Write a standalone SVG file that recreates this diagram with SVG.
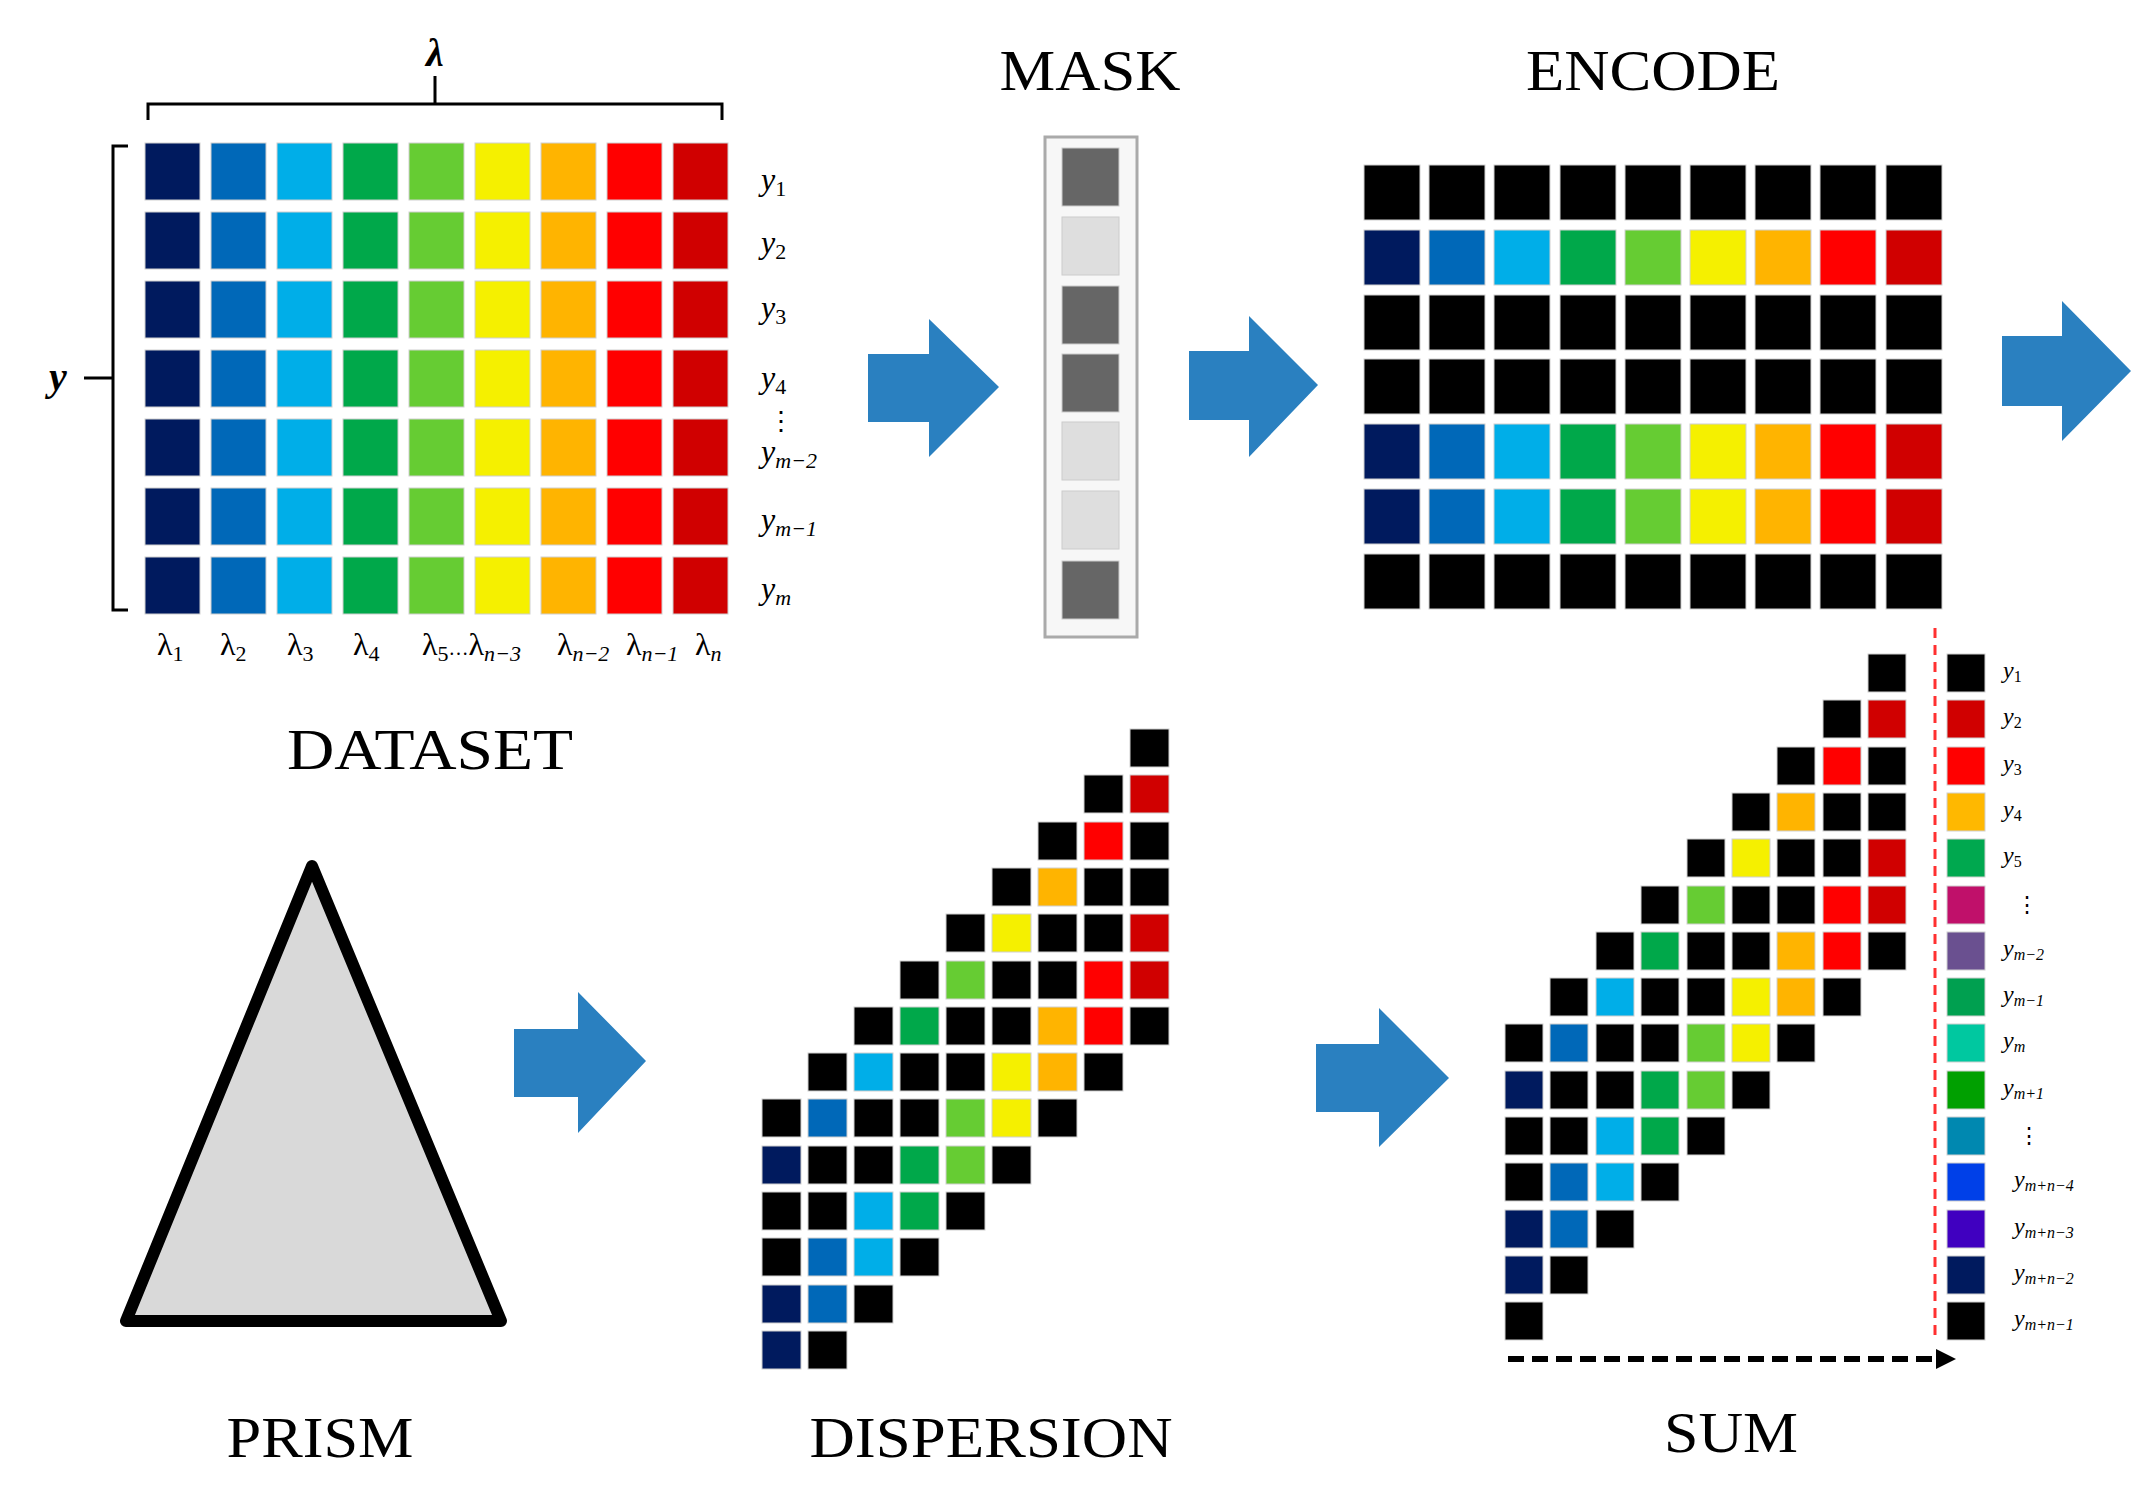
<svg xmlns="http://www.w3.org/2000/svg" width="2154" height="1485" viewBox="0 0 2154 1485">
<style>
.t{font-family:"Liberation Serif","DejaVu Serif",serif;fill:#000}
.ti{font-family:"Liberation Serif","DejaVu Serif",serif;font-style:italic;fill:#000}
.c{stroke:#d0d0d0;stroke-width:1}
.k{fill:#000}.nv{fill:#001a5e}.bl{fill:#0068b8}.cy{fill:#00aee8}.gr{fill:#00a84a}.lg{fill:#66cc33}.ye{fill:#f5f000}.or{fill:#ffb400}.rd{fill:#ff0000}.dr{fill:#d00000}
.arr{fill:#2a80c0}
.ln{fill:none;stroke:#000;stroke-width:3}
</style>
<g id="dataset">
<g id="dataset-grid" class="c">
<g transform="translate(0,143)"><rect x="145" width="55" height="57" class="nv"/><rect x="211" width="55" height="57" class="bl"/><rect x="277" width="55" height="57" class="cy"/><rect x="343" width="55" height="57" class="gr"/><rect x="409" width="55" height="57" class="lg"/><rect x="475" width="55" height="57" class="ye"/><rect x="541" width="55" height="57" class="or"/><rect x="607" width="55" height="57" class="rd"/><rect x="673" width="55" height="57" class="dr"/></g>
<g transform="translate(0,212)"><rect x="145" width="55" height="57" class="nv"/><rect x="211" width="55" height="57" class="bl"/><rect x="277" width="55" height="57" class="cy"/><rect x="343" width="55" height="57" class="gr"/><rect x="409" width="55" height="57" class="lg"/><rect x="475" width="55" height="57" class="ye"/><rect x="541" width="55" height="57" class="or"/><rect x="607" width="55" height="57" class="rd"/><rect x="673" width="55" height="57" class="dr"/></g>
<g transform="translate(0,281)"><rect x="145" width="55" height="57" class="nv"/><rect x="211" width="55" height="57" class="bl"/><rect x="277" width="55" height="57" class="cy"/><rect x="343" width="55" height="57" class="gr"/><rect x="409" width="55" height="57" class="lg"/><rect x="475" width="55" height="57" class="ye"/><rect x="541" width="55" height="57" class="or"/><rect x="607" width="55" height="57" class="rd"/><rect x="673" width="55" height="57" class="dr"/></g>
<g transform="translate(0,350)"><rect x="145" width="55" height="57" class="nv"/><rect x="211" width="55" height="57" class="bl"/><rect x="277" width="55" height="57" class="cy"/><rect x="343" width="55" height="57" class="gr"/><rect x="409" width="55" height="57" class="lg"/><rect x="475" width="55" height="57" class="ye"/><rect x="541" width="55" height="57" class="or"/><rect x="607" width="55" height="57" class="rd"/><rect x="673" width="55" height="57" class="dr"/></g>
<g transform="translate(0,419)"><rect x="145" width="55" height="57" class="nv"/><rect x="211" width="55" height="57" class="bl"/><rect x="277" width="55" height="57" class="cy"/><rect x="343" width="55" height="57" class="gr"/><rect x="409" width="55" height="57" class="lg"/><rect x="475" width="55" height="57" class="ye"/><rect x="541" width="55" height="57" class="or"/><rect x="607" width="55" height="57" class="rd"/><rect x="673" width="55" height="57" class="dr"/></g>
<g transform="translate(0,488)"><rect x="145" width="55" height="57" class="nv"/><rect x="211" width="55" height="57" class="bl"/><rect x="277" width="55" height="57" class="cy"/><rect x="343" width="55" height="57" class="gr"/><rect x="409" width="55" height="57" class="lg"/><rect x="475" width="55" height="57" class="ye"/><rect x="541" width="55" height="57" class="or"/><rect x="607" width="55" height="57" class="rd"/><rect x="673" width="55" height="57" class="dr"/></g>
<g transform="translate(0,557)"><rect x="145" width="55" height="57" class="nv"/><rect x="211" width="55" height="57" class="bl"/><rect x="277" width="55" height="57" class="cy"/><rect x="343" width="55" height="57" class="gr"/><rect x="409" width="55" height="57" class="lg"/><rect x="475" width="55" height="57" class="ye"/><rect x="541" width="55" height="57" class="or"/><rect x="607" width="55" height="57" class="rd"/><rect x="673" width="55" height="57" class="dr"/></g>
</g>
<path class="ln" d="M148,120 V104 H722 V120 M435,104 V76"/>
<text class="ti" x="435" y="66" font-size="40" text-anchor="middle" font-weight="bold">λ</text>
<path class="ln" d="M128,146 H113 V610 H128 M113,378 H84"/>
<text class="ti" x="58" y="390" font-size="40" text-anchor="middle" font-weight="bold">y</text>
<g class="ti" font-size="32">
<text x="761" y="190">y<tspan font-size="22" font-style="normal" dy="6">1</tspan></text>
<text x="761" y="253">y<tspan font-size="22" font-style="normal" dy="6">2</tspan></text>
<text x="761" y="318">y<tspan font-size="22" font-style="normal" dy="6">3</tspan></text>
<text x="761" y="388">y<tspan font-size="22" font-style="normal" dy="6">4</tspan></text>
<text x="768" y="430" font-style="normal" font-size="26">⋮</text>
<text x="761" y="462">y<tspan font-size="22" dy="6">m−2</tspan></text>
<text x="761" y="530">y<tspan font-size="22" dy="6">m−1</tspan></text>
<text x="761" y="599">y<tspan font-size="22" dy="6">m</tspan></text>
</g>
<g class="t" font-size="32">
<text x="157" y="655">λ<tspan font-size="22" dy="6">1</tspan></text>
<text x="220" y="655">λ<tspan font-size="22" dy="6">2</tspan></text>
<text x="287" y="655">λ<tspan font-size="22" dy="6">3</tspan></text>
<text x="353" y="655">λ<tspan font-size="22" dy="6">4</tspan></text>
<text x="422" y="655">λ<tspan font-size="22" dy="6">5</tspan><tspan dy="-6" font-size="20">…</tspan>λ<tspan font-size="22" font-style="italic" dy="6">n−3</tspan></text>
<text x="557" y="655">λ<tspan font-size="22" font-style="italic" dy="6">n−2</tspan></text>
<text x="626" y="655">λ<tspan font-size="22" font-style="italic" dy="6">n−1</tspan></text>
<text x="695" y="655">λ<tspan font-size="22" font-style="italic" dy="6">n</tspan></text>
</g>
<text class="t" x="430" y="769" font-size="58" text-anchor="middle" textLength="286" lengthAdjust="spacingAndGlyphs">DATASET</text>
</g>
<g id="mask">
<text class="t" x="1090" y="90" font-size="58" text-anchor="middle" textLength="181" lengthAdjust="spacingAndGlyphs">MASK</text>
<rect x="1045" y="137" width="92" height="500" fill="#f7f7f7" stroke="#aaa" stroke-width="3"/>
<g stroke="#ccc" stroke-width="1">
<rect x="1062" y="148" width="57" height="58" fill="#666"/>
<rect x="1062" y="217" width="57" height="58" fill="#dedede"/>
<rect x="1062" y="286" width="57" height="58" fill="#666"/>
<rect x="1062" y="354" width="57" height="58" fill="#666"/>
<rect x="1062" y="422" width="57" height="58" fill="#dedede"/>
<rect x="1062" y="491" width="57" height="58" fill="#dedede"/>
<rect x="1062" y="561" width="57" height="58" fill="#666"/>
</g>
</g>
<g id="encode">
<text class="t" x="1653" y="90" font-size="58" text-anchor="middle" textLength="254" lengthAdjust="spacingAndGlyphs">ENCODE</text>
<g class="c">
<g transform="translate(0,165)" class="k"><rect x="1364" width="56" height="55"/><rect x="1429" width="56" height="55"/><rect x="1494" width="56" height="55"/><rect x="1560" width="56" height="55"/><rect x="1625" width="56" height="55"/><rect x="1690" width="56" height="55"/><rect x="1755" width="56" height="55"/><rect x="1820" width="56" height="55"/><rect x="1886" width="56" height="55"/></g>
<g transform="translate(0,230)"><rect x="1364" width="56" height="55" class="nv"/><rect x="1429" width="56" height="55" class="bl"/><rect x="1494" width="56" height="55" class="cy"/><rect x="1560" width="56" height="55" class="gr"/><rect x="1625" width="56" height="55" class="lg"/><rect x="1690" width="56" height="55" class="ye"/><rect x="1755" width="56" height="55" class="or"/><rect x="1820" width="56" height="55" class="rd"/><rect x="1886" width="56" height="55" class="dr"/></g>
<g transform="translate(0,295)" class="k"><rect x="1364" width="56" height="55"/><rect x="1429" width="56" height="55"/><rect x="1494" width="56" height="55"/><rect x="1560" width="56" height="55"/><rect x="1625" width="56" height="55"/><rect x="1690" width="56" height="55"/><rect x="1755" width="56" height="55"/><rect x="1820" width="56" height="55"/><rect x="1886" width="56" height="55"/></g>
<g transform="translate(0,359)" class="k"><rect x="1364" width="56" height="55"/><rect x="1429" width="56" height="55"/><rect x="1494" width="56" height="55"/><rect x="1560" width="56" height="55"/><rect x="1625" width="56" height="55"/><rect x="1690" width="56" height="55"/><rect x="1755" width="56" height="55"/><rect x="1820" width="56" height="55"/><rect x="1886" width="56" height="55"/></g>
<g transform="translate(0,424)"><rect x="1364" width="56" height="55" class="nv"/><rect x="1429" width="56" height="55" class="bl"/><rect x="1494" width="56" height="55" class="cy"/><rect x="1560" width="56" height="55" class="gr"/><rect x="1625" width="56" height="55" class="lg"/><rect x="1690" width="56" height="55" class="ye"/><rect x="1755" width="56" height="55" class="or"/><rect x="1820" width="56" height="55" class="rd"/><rect x="1886" width="56" height="55" class="dr"/></g>
<g transform="translate(0,489)"><rect x="1364" width="56" height="55" class="nv"/><rect x="1429" width="56" height="55" class="bl"/><rect x="1494" width="56" height="55" class="cy"/><rect x="1560" width="56" height="55" class="gr"/><rect x="1625" width="56" height="55" class="lg"/><rect x="1690" width="56" height="55" class="ye"/><rect x="1755" width="56" height="55" class="or"/><rect x="1820" width="56" height="55" class="rd"/><rect x="1886" width="56" height="55" class="dr"/></g>
<g transform="translate(0,554)" class="k"><rect x="1364" width="56" height="55"/><rect x="1429" width="56" height="55"/><rect x="1494" width="56" height="55"/><rect x="1560" width="56" height="55"/><rect x="1625" width="56" height="55"/><rect x="1690" width="56" height="55"/><rect x="1755" width="56" height="55"/><rect x="1820" width="56" height="55"/><rect x="1886" width="56" height="55"/></g>
</g>
</g>
<g id="prism">
<polygon points="312,866 126,1321 501,1321" fill="#d9d9d9" stroke="#000" stroke-width="12" stroke-linejoin="round"/>
<text class="t" x="320" y="1457" font-size="58" text-anchor="middle" textLength="187" lengthAdjust="spacingAndGlyphs">PRISM</text>
</g>
<g id="dispersion">
<g class="c">
<g transform="translate(0,729)"><rect x="1130" width="39" height="38" class="k"/></g>
<g transform="translate(0,775)"><rect x="1084" width="39" height="38" class="k"/><rect x="1130" width="39" height="38" class="dr"/></g>
<g transform="translate(0,822)"><rect x="1038" width="39" height="38" class="k"/><rect x="1084" width="39" height="38" class="rd"/><rect x="1130" width="39" height="38" class="k"/></g>
<g transform="translate(0,868)"><rect x="992" width="39" height="38" class="k"/><rect x="1038" width="39" height="38" class="or"/><rect x="1084" width="39" height="38" class="k"/><rect x="1130" width="39" height="38" class="k"/></g>
<g transform="translate(0,914)"><rect x="946" width="39" height="38" class="k"/><rect x="992" width="39" height="38" class="ye"/><rect x="1038" width="39" height="38" class="k"/><rect x="1084" width="39" height="38" class="k"/><rect x="1130" width="39" height="38" class="dr"/></g>
<g transform="translate(0,961)"><rect x="900" width="39" height="38" class="k"/><rect x="946" width="39" height="38" class="lg"/><rect x="992" width="39" height="38" class="k"/><rect x="1038" width="39" height="38" class="k"/><rect x="1084" width="39" height="38" class="rd"/><rect x="1130" width="39" height="38" class="dr"/></g>
<g transform="translate(0,1007)"><rect x="854" width="39" height="38" class="k"/><rect x="900" width="39" height="38" class="gr"/><rect x="946" width="39" height="38" class="k"/><rect x="992" width="39" height="38" class="k"/><rect x="1038" width="39" height="38" class="or"/><rect x="1084" width="39" height="38" class="rd"/><rect x="1130" width="39" height="38" class="k"/></g>
<g transform="translate(0,1053)"><rect x="808" width="39" height="38" class="k"/><rect x="854" width="39" height="38" class="cy"/><rect x="900" width="39" height="38" class="k"/><rect x="946" width="39" height="38" class="k"/><rect x="992" width="39" height="38" class="ye"/><rect x="1038" width="39" height="38" class="or"/><rect x="1084" width="39" height="38" class="k"/></g>
<g transform="translate(0,1099)"><rect x="762" width="39" height="38" class="k"/><rect x="808" width="39" height="38" class="bl"/><rect x="854" width="39" height="38" class="k"/><rect x="900" width="39" height="38" class="k"/><rect x="946" width="39" height="38" class="lg"/><rect x="992" width="39" height="38" class="ye"/><rect x="1038" width="39" height="38" class="k"/></g>
<g transform="translate(0,1146)"><rect x="762" width="39" height="38" class="nv"/><rect x="808" width="39" height="38" class="k"/><rect x="854" width="39" height="38" class="k"/><rect x="900" width="39" height="38" class="gr"/><rect x="946" width="39" height="38" class="lg"/><rect x="992" width="39" height="38" class="k"/></g>
<g transform="translate(0,1192)"><rect x="762" width="39" height="38" class="k"/><rect x="808" width="39" height="38" class="k"/><rect x="854" width="39" height="38" class="cy"/><rect x="900" width="39" height="38" class="gr"/><rect x="946" width="39" height="38" class="k"/></g>
<g transform="translate(0,1238)"><rect x="762" width="39" height="38" class="k"/><rect x="808" width="39" height="38" class="bl"/><rect x="854" width="39" height="38" class="cy"/><rect x="900" width="39" height="38" class="k"/></g>
<g transform="translate(0,1285)"><rect x="762" width="39" height="38" class="nv"/><rect x="808" width="39" height="38" class="bl"/><rect x="854" width="39" height="38" class="k"/></g>
<g transform="translate(0,1331)"><rect x="762" width="39" height="38" class="nv"/><rect x="808" width="39" height="38" class="k"/></g>
</g>
<text class="t" x="991" y="1457" font-size="58" text-anchor="middle" textLength="363" lengthAdjust="spacingAndGlyphs">DISPERSION</text>
</g>
<g id="sum">
<g class="c">
<g transform="translate(0,654)"><rect x="1868" width="38" height="38" class="k"/></g>
<g transform="translate(0,700)"><rect x="1823" width="38" height="38" class="k"/><rect x="1868" width="38" height="38" class="dr"/></g>
<g transform="translate(0,747)"><rect x="1777" width="38" height="38" class="k"/><rect x="1823" width="38" height="38" class="rd"/><rect x="1868" width="38" height="38" class="k"/></g>
<g transform="translate(0,793)"><rect x="1732" width="38" height="38" class="k"/><rect x="1777" width="38" height="38" class="or"/><rect x="1823" width="38" height="38" class="k"/><rect x="1868" width="38" height="38" class="k"/></g>
<g transform="translate(0,839)"><rect x="1687" width="38" height="38" class="k"/><rect x="1732" width="38" height="38" class="ye"/><rect x="1777" width="38" height="38" class="k"/><rect x="1823" width="38" height="38" class="k"/><rect x="1868" width="38" height="38" class="dr"/></g>
<g transform="translate(0,886)"><rect x="1641" width="38" height="38" class="k"/><rect x="1687" width="38" height="38" class="lg"/><rect x="1732" width="38" height="38" class="k"/><rect x="1777" width="38" height="38" class="k"/><rect x="1823" width="38" height="38" class="rd"/><rect x="1868" width="38" height="38" class="dr"/></g>
<g transform="translate(0,932)"><rect x="1596" width="38" height="38" class="k"/><rect x="1641" width="38" height="38" class="gr"/><rect x="1687" width="38" height="38" class="k"/><rect x="1732" width="38" height="38" class="k"/><rect x="1777" width="38" height="38" class="or"/><rect x="1823" width="38" height="38" class="rd"/><rect x="1868" width="38" height="38" class="k"/></g>
<g transform="translate(0,978)"><rect x="1550" width="38" height="38" class="k"/><rect x="1596" width="38" height="38" class="cy"/><rect x="1641" width="38" height="38" class="k"/><rect x="1687" width="38" height="38" class="k"/><rect x="1732" width="38" height="38" class="ye"/><rect x="1777" width="38" height="38" class="or"/><rect x="1823" width="38" height="38" class="k"/></g>
<g transform="translate(0,1024)"><rect x="1505" width="38" height="38" class="k"/><rect x="1550" width="38" height="38" class="bl"/><rect x="1596" width="38" height="38" class="k"/><rect x="1641" width="38" height="38" class="k"/><rect x="1687" width="38" height="38" class="lg"/><rect x="1732" width="38" height="38" class="ye"/><rect x="1777" width="38" height="38" class="k"/></g>
<g transform="translate(0,1071)"><rect x="1505" width="38" height="38" class="nv"/><rect x="1550" width="38" height="38" class="k"/><rect x="1596" width="38" height="38" class="k"/><rect x="1641" width="38" height="38" class="gr"/><rect x="1687" width="38" height="38" class="lg"/><rect x="1732" width="38" height="38" class="k"/></g>
<g transform="translate(0,1117)"><rect x="1505" width="38" height="38" class="k"/><rect x="1550" width="38" height="38" class="k"/><rect x="1596" width="38" height="38" class="cy"/><rect x="1641" width="38" height="38" class="gr"/><rect x="1687" width="38" height="38" class="k"/></g>
<g transform="translate(0,1163)"><rect x="1505" width="38" height="38" class="k"/><rect x="1550" width="38" height="38" class="bl"/><rect x="1596" width="38" height="38" class="cy"/><rect x="1641" width="38" height="38" class="k"/></g>
<g transform="translate(0,1210)"><rect x="1505" width="38" height="38" class="nv"/><rect x="1550" width="38" height="38" class="bl"/><rect x="1596" width="38" height="38" class="k"/></g>
<g transform="translate(0,1256)"><rect x="1505" width="38" height="38" class="nv"/><rect x="1550" width="38" height="38" class="k"/></g>
<g transform="translate(0,1302)"><rect x="1505" width="38" height="38" class="k"/></g>
</g>
<g class="c">
<rect x="1947" y="654" width="38" height="38" fill="#000"/>
<rect x="1947" y="700" width="38" height="38" fill="#d00000"/>
<rect x="1947" y="747" width="38" height="38" fill="#ff0000"/>
<rect x="1947" y="793" width="38" height="38" fill="#ffb800"/>
<rect x="1947" y="839" width="38" height="38" fill="#00a84f"/>
<rect x="1947" y="886" width="38" height="38" fill="#c0106a"/>
<rect x="1947" y="932" width="38" height="38" fill="#6a5090"/>
<rect x="1947" y="978" width="38" height="38" fill="#00a050"/>
<rect x="1947" y="1024" width="38" height="38" fill="#00c8a0"/>
<rect x="1947" y="1071" width="38" height="38" fill="#00a000"/>
<rect x="1947" y="1117" width="38" height="38" fill="#0088b0"/>
<rect x="1947" y="1163" width="38" height="38" fill="#0040e8"/>
<rect x="1947" y="1210" width="38" height="38" fill="#4000c0"/>
<rect x="1947" y="1256" width="38" height="38" fill="#001a5e"/>
<rect x="1947" y="1302" width="38" height="38" fill="#000"/>
</g>
<g class="ti" font-size="24">
<text x="2003" y="678">y<tspan font-size="16" font-style="normal" dy="4">1</tspan></text>
<text x="2003" y="724">y<tspan font-size="16" font-style="normal" dy="4">2</tspan></text>
<text x="2003" y="771">y<tspan font-size="16" font-style="normal" dy="4">3</tspan></text>
<text x="2003" y="817">y<tspan font-size="16" font-style="normal" dy="4">4</tspan></text>
<text x="2003" y="863">y<tspan font-size="16" font-style="normal" dy="4">5</tspan></text>
<text x="2016" y="912" font-style="normal" font-size="22">⋮</text>
<text x="2003" y="956">y<tspan font-size="16" dy="4">m−2</tspan></text>
<text x="2003" y="1002">y<tspan font-size="16" dy="4">m−1</tspan></text>
<text x="2003" y="1048">y<tspan font-size="16" dy="4">m</tspan></text>
<text x="2003" y="1095">y<tspan font-size="16" dy="4">m+1</tspan></text>
<text x="2018" y="1143" font-style="normal" font-size="22">⋮</text>
<text x="2014" y="1187">y<tspan font-size="16" dy="4">m+n−4</tspan></text>
<text x="2014" y="1234">y<tspan font-size="16" dy="4">m+n−3</tspan></text>
<text x="2014" y="1280">y<tspan font-size="16" dy="4">m+n−2</tspan></text>
<text x="2014" y="1326">y<tspan font-size="16" dy="4">m+n−1</tspan></text>
</g>
<text class="t" x="1731" y="1452" font-size="58" text-anchor="middle" textLength="134" lengthAdjust="spacingAndGlyphs">SUM</text>
</g>
<g id="connectors">
<polygon class="arr" points="868,354 929,354 929,319 999,387 929,457 929,422 868,422"/>
<polygon class="arr" points="1189,351 1249,351 1249,316 1318,385 1249,457 1249,420 1189,420"/>
<polygon class="arr" points="2002,336 2062,336 2062,301 2131,371 2062,441 2062,406 2002,406"/>
<polygon class="arr" points="514,1029 578,1029 578,992 646,1061 578,1133 578,1097 514,1097"/>
<polygon class="arr" points="1316,1044 1379,1044 1379,1008 1449,1078 1379,1147 1379,1112 1316,1112"/>
<line x1="1935" y1="628" x2="1935" y2="1340" stroke="#ff3030" stroke-width="3" stroke-dasharray="10,7"/>
<line x1="1508" y1="1359" x2="1938" y2="1359" stroke="#000" stroke-width="6" stroke-dasharray="16,8"/>
<polygon points="1936,1349 1956,1359 1936,1369" fill="#000"/>
</g>
</svg>
